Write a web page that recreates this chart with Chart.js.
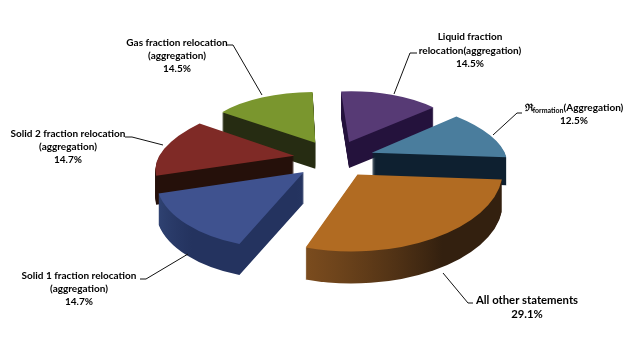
<!DOCTYPE html>
<html><head><meta charset="utf-8">
<style>html,body{margin:0;padding:0;background:#fff}canvas{display:block}</style>
<script src="https://cdn.jsdelivr.net/npm/chart.js@4"></script>
</head><body><canvas id="c" width="634" height="352"></canvas>
<script>
const categories = ["Liquid fraction relocation(aggregation)", "ℜformation(Aggregation)", "All other statements", "Solid 1 fraction relocation (aggregation)", "Solid 2 fraction relocation (aggregation)", "Gas fraction relocation (aggregation)"];
const values = [14.5, 12.5, 29.1, 14.7, 14.7, 14.5];
const topColors = ["#573a75", "#4a7d9d", "#b16b22", "#3f528f", "#7f2a26", "#7a962e"];
const sideStart = ["#24123c", "#0e2030", "#33200f", "#24335f", "#25100a", "#262c12"];
const sideEnd = ["#24123c", "#0e2030", "#7b4c1e", "#2f4272", "#25100a", "#262c12"];
const explode = 0.30, perspX = 0.2, perspY = 0.14, scaleX = 135, scaleY = 62, cx = 334, cy = 158.5, depthBase = 29;
const project = (X, Y) => [cx + scaleX * X / (1 - perspX * Y), cy + scaleY * Y / (1 - perspY * Y)];
const labelBlocks = [
  {lines:["Liquid fraction","relocation(aggregation)"], x:470, y:37, lh:13.5, leader:[[394,94],[410,53],[417,53]]},
  {lines:[null], x:574, y:108, lh:13, leader:[[493,135],[517,113],[522,113]]},
  {lines:["All other statements"], x:527, y:300, lh:14, big:true, leader:[[443,273],[468,303],[473,303]]},
  {lines:["Solid 1 fraction relocation","(aggregation)"], x:79, y:276, lh:13, leader:[[188,254],[146,279],[140,279]]},
  {lines:["Solid 2 fraction relocation","(aggregation)"], x:68, y:134, lh:13, leader:[[163,145],[132,137],[125,137]]},
  {lines:["Gas fraction relocation","(aggregation)"], x:177, y:43, lh:13, leader:[[262,95],[233,45],[227,45]]}
];
const FONT = 'bold 10px Lato';
const pie3d = {
  id: 'pie3d',
  beforeDatasetDraw(chart) {
    const ctx = chart.ctx, arcs = chart.getDatasetMeta(0).data;
    const items = arcs.map((arc, i) => {
      const s = arc.startAngle, e = arc.endAngle, mid = (s + e) / 2, R = arc.outerRadius;
      const ax = explode * Math.cos(mid), ay = explode * Math.sin(mid);
      const P0 = project(ax, ay), P1 = project(ax + Math.cos(s), ay + Math.sin(s)), P2 = project(ax + Math.cos(e), ay + Math.sin(e));
      const v1 = [R * Math.cos(s), R * Math.sin(s)], v2 = [R * Math.cos(e), R * Math.sin(e)];
      const det = v1[0] * v2[1] - v2[0] * v1[1];
      const m = [P1[0] - P0[0], P1[1] - P0[1], P2[0] - P0[0], P2[1] - P0[1]];
      const a = (m[0] * v2[1] - m[2] * v1[1]) / det, c = (-m[0] * v2[0] + m[2] * v1[0]) / det;
      const b = (m[1] * v2[1] - m[3] * v1[1]) / det, d = (-m[1] * v2[0] + m[3] * v1[0]) / det;
      const tx = P0[0] - (a * arc.x + c * arc.y), ty = P0[1] - (b * arc.x + d * arc.y);
      const Yref = ay + 0.6 * Math.sin(mid);
      return {arc, i, mat:[a,b,c,d,tx,ty], v1, v2, order: Math.sin(mid) * 1 + ay, depth: Math.round(depthBase / (1 - 0.12 * Yref))};
    }).sort((p, q) => p.order - q.order);
    for (const it of items) {
      const {arc, i, mat, v1, v2, depth} = it, base = arc.options;
      const g = ctx.createLinearGradient(arc.x + v1[0], arc.y + v1[1], arc.x + v2[0], arc.y + v2[1]);
      g.addColorStop(0, sideStart[i]); g.addColorStop(0.45, sideStart[i]); g.addColorStop(1, sideEnd[i]);
      const sideOpts = Object.create(base); sideOpts.backgroundColor = g;
      arc.options = sideOpts;
      for (let d = depth; d >= 1; d--) {
        ctx.save(); ctx.translate(0, d); ctx.transform(...mat); arc.draw(ctx); ctx.restore();
      }
      arc.options = base;
      ctx.save(); ctx.transform(...mat); arc.draw(ctx); ctx.restore();
    }
    return false;
  },
  afterDraw(chart) {
    const ctx = chart.ctx;
    ctx.save();
    ctx.strokeStyle = '#111'; ctx.lineWidth = 1;
    ctx.fillStyle = '#000'; ctx.textAlign = 'center'; ctx.textBaseline = 'middle';
    labelBlocks.forEach((b, i) => {
      ctx.beginPath(); b.leader.forEach((p, k) => k ? ctx.lineTo(p[0], p[1]) : ctx.moveTo(p[0], p[1])); ctx.stroke();
      ctx.font = b.big ? 'bold 11.3px Lato' : FONT;
      const pct = values[i].toFixed(1) + '%';
      if (b.lines[0] === null) {
        const w1 = ctx.measureText('ℜ').width, w3 = ctx.measureText('(Aggregation)').width;
        ctx.font = 'bold 7px Lato'; const w2 = ctx.measureText('formation').width;
        let x = b.x - (w1 + w2 + w3) / 2;
        ctx.textAlign = 'left'; ctx.font = FONT; ctx.fillText('ℜ', x, b.y); x += w1;
        ctx.font = 'bold 7px Lato'; ctx.fillText('formation', x, b.y + 3); x += w2;
        ctx.font = FONT; ctx.fillText('(Aggregation)', x, b.y);
        ctx.textAlign = 'center';
      } else {
        b.lines.forEach((t, k) => ctx.fillText(t, b.x, b.y + k * b.lh));
      }
      const n = b.lines.length;
      ctx.fillText(pct, b.x, b.y + n * b.lh);
    });
    ctx.restore();
  }
};
new Chart(document.getElementById('c'), {
  type: 'pie',
  data: { labels: categories, datasets: [{ data: values, backgroundColor: topColors, borderWidth: 0 }] },
  options: {
    responsive: false, animation: false, rotation: -3,
    plugins: { legend: { display: false }, tooltip: { enabled: false } }
  },
  plugins: [pie3d]
});
</script></body></html>
